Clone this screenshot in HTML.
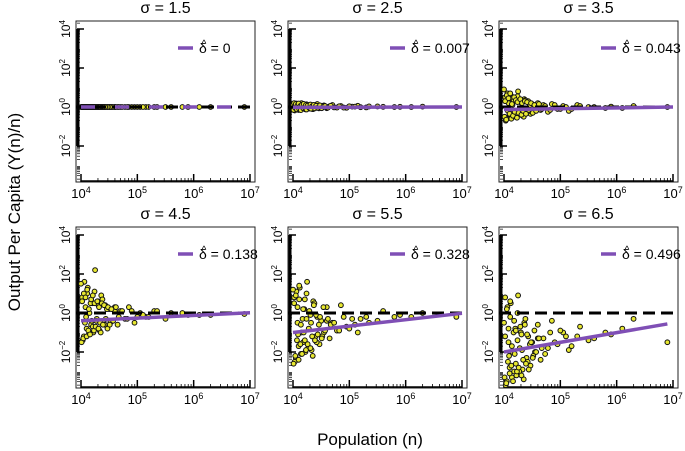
<!DOCTYPE html>
<html><head><meta charset="utf-8"><style>
body{margin:0;background:#fff;}
svg{display:block;font-family:"Liberation Sans",Arial,sans-serif;}
</style></head><body>
<svg id="chart" width="685" height="451" viewBox="0 0 685 451" xmlns="http://www.w3.org/2000/svg">
<text x="0" y="0" transform="translate(20,212) rotate(-90)" text-anchor="middle" font-size="17">Output Per Capita (Y(n)/n)</text>
<text x="370" y="445" text-anchor="middle" font-size="17">Population (n)</text>
</svg>
<script>
const sigmas = ["1.5","2.5","3.5","4.5","5.5","6.5"];
const deltas = [0, 0.007, 0.043, 0.138, 0.328, 0.496];
const deltaLabels = ["0","0.007","0.043","0.138","0.328","0.496"];
const fitStart = [0, -0.02, -0.13, -0.4, -1.0, -2.0];
const fitEndX = [7, 7, 7, 7, 7, 6.9];
const xTicks = [4,5,6,7];
const yTicks = [4,2,0,-2];
const logPop = [4.02,4.05,4.08,4.1,4.12,4.15,4.18,4.2,4.22,4.25,4.28,4.3,4.33,4.36,4.4,4.43,4.47,4.5,4.55,4.6,4.65,4.7,4.78,4.85,4.95,5.05,5.15,5.3,5.5,5.8,6.3,6.9,4.03,4.06,4.09,4.11,4.14,4.17,4.21,4.24,4.27,4.31,4.35,4.38,4.42,4.46,4.52,4.6,5.0,5.9,
 4.0,4.01,4.02,4.04,4.05,4.07,4.08,4.1,4.11,4.13,4.14,4.16,4.18,4.19,4.21,4.23,4.24,4.26,4.29,4.31,4.32,4.34,4.37,4.39,4.41,4.44,4.48,4.51,4.54,4.57,4.62,4.67,4.73,4.82,4.9,5.1,5.2,5.35,5.6,6.1];
const y1 = logPop.map(()=>0);
const y2 = [0.15,-0.1,0.05,-0.15,0.1,0.2,-0.05,0.08,-0.12,0.12,0.02,-0.08,0.1,-0.1,0.05,0.15,-0.05,0.0,0.08,-0.06,0.04,0.1,-0.03,0.05,-0.04,0.02,0.06,-0.02,0.03,0.0,0.02,0.0,-0.18,0.18,-0.02,0.12,-0.14,0.06,-0.09,0.14,-0.06,0.09,-0.11,0.03,0.07,-0.07,0.05,-0.03,0.04,0.01,
 0.1,-0.15,0.2,-0.05,0.15,-0.12,0.08,0.18,-0.1,0.05,-0.16,0.12,-0.06,0.16,-0.02,0.1,-0.13,0.07,-0.05,0.13,-0.09,0.04,0.11,-0.07,0.06,-0.04,0.08,-0.06,0.03,0.05,-0.03,0.06,-0.02,0.04,-0.03,0.02,-0.01,0.03,0.01,0.0];
const y3 = [0.5,-0.6,0.2,-0.4,0.6,0.1,-0.3,0.35,-0.5,0.8,-0.2,0.25,-0.45,0.4,-0.1,0.3,-0.35,0.15,-0.2,0.2,-0.15,0.1,-0.25,0.15,-0.1,0.05,-0.2,0.1,0.0,-0.05,0.05,0.0,-0.7,0.7,-0.15,0.45,-0.55,0.3,-0.4,0.55,-0.3,0.2,-0.5,0.35,-0.25,0.1,-0.15,0.05,-0.1,0.02,
 0.9,-0.5,0.3,-0.65,0.6,-0.2,0.45,-0.35,0.7,-0.6,0.15,-0.45,0.5,-0.25,0.35,-0.55,0.25,-0.3,0.4,-0.4,0.2,-0.2,0.3,-0.35,0.25,-0.15,0.2,-0.3,0.1,-0.2,0.15,-0.1,0.05,-0.15,0.1,0.0,-0.1,0.05,0.0,-0.05];
const y4 = [0.8,-1.2,0.3,-0.8,1.3,0.0,-0.6,0.5,-1.0,2.2,-0.3,0.6,-0.9,0.9,-0.5,0.4,-0.8,0.2,-0.4,0.3,-0.6,0.1,-0.3,0.3,-0.5,0.0,-0.2,0.1,-0.3,0.0,-0.1,-0.05,-1.4,1.6,-0.2,1.0,-1.1,0.5,-0.7,1.1,-0.4,0.4,-1.0,0.7,-0.6,0.2,-0.5,0.1,-0.2,-0.1,
 1.5,-1.5,0.6,-1.3,1.0,-0.5,0.8,-1.2,1.2,-0.9,0.2,-1.1,0.7,-0.4,0.9,-0.9,0.5,-0.7,0.6,-0.8,0.3,-0.5,0.5,-0.6,0.4,-0.3,0.3,-0.6,0.2,-0.4,0.3,-0.2,0.1,-0.3,0.1,-0.1,-0.2,0.1,0.0,-0.1];
const y5 = [0.8,-2.3,-0.5,-1.7,1.3,-1.0,-1.5,0.2,-2.0,1.6,-0.8,0.0,-1.9,0.6,-1.2,-0.2,-1.6,-0.4,-1.0,0.3,-1.3,-0.5,-0.9,0.4,-0.7,-0.3,-1.0,-0.2,-0.4,-0.2,0.0,-0.2,-2.5,1.1,-1.1,0.7,-2.1,-0.3,-1.4,1.0,-1.8,-0.1,-2.2,0.5,-1.5,-0.6,-1.2,-0.4,-0.8,-0.1,
 1.2,-2.6,0.5,-2.2,0.9,-1.4,0.3,-2.4,1.4,-1.6,-0.6,-2.1,0.2,-1.0,0.7,-1.9,-0.3,-1.6,0.1,-1.8,-0.5,-1.2,0.4,-1.4,-0.1,-1.1,-0.2,-1.3,0.3,-0.9,-0.3,-0.6,-0.5,-0.9,-0.2,-0.6,-0.3,-0.5,0.1,-0.2];
const y6 = [0.8,-3.5,-1.5,-2.8,0.5,-2.0,-3.0,-0.8,-3.2,0.9,-1.8,-1.0,-2.9,-0.5,-2.3,-1.2,-2.7,-1.5,-2.0,-0.6,-2.4,-1.3,-1.8,-0.4,-1.6,-1.0,-1.9,-1.2,-1.4,-1.0,-0.3,-1.5,-3.7,0.3,-2.2,-0.2,-3.3,-1.0,-2.6,0.0,-3.0,-1.1,-3.4,-0.3,-2.5,-1.6,-2.2,-1.3,-0.9,-1.1,
 -0.5,-3.3,-1.2,-3.6,0.2,-2.5,-0.8,-3.1,0.6,-2.7,-1.7,-3.5,-0.4,-2.1,-0.9,-3.0,-1.4,-2.8,-0.7,-3.2,-1.9,-2.4,-0.6,-2.6,-1.1,-2.9,-1.5,-2.3,-0.9,-2.0,-1.3,-1.8,-2.1,-1.0,-1.5,-1.2,-1.7,-0.7,-1.3,-0.8];
const ySeries = [y1,y2,y3,y4,y5,y6];

const svg = document.getElementById('chart');
const NS = 'http://www.w3.org/2000/svg';
function mk(tag, attrs, parent){const e=document.createElementNS(NS,tag);for(const k in attrs)e.setAttribute(k,attrs[k]);(parent||svg).appendChild(e);return e;}
const colLeft=[76,288,499], rowTop=[21,227], W=179, H=161;

for(let p=0;p<6;p++){
  const L=colLeft[p%3], T=rowTop[Math.floor(p/3)];
  const xs=v=>L+5+(v-4)*(169/3);
  const ys=v=>T+86-v*19.5;
  const g=mk('g',{});
  
  
  const t=mk('text',{x:L+W/2,y:T-8,'text-anchor':'middle','font-size':'16'},g);
  
  
  t.textContent='σ = '+sigmas[p];
  const fr=mk('rect',{x:L,y:T,width:W,height:H,fill:'none',stroke:'#222','stroke-width':1},g);
  
  
  const ya=mk('line',{x1:L+2,x2:L+2,y1:ys(4),y2:ys(-2),stroke:'#000','stroke-width':3},g);
  
  
  for(let d=-4;d<5;d++){for(let m=2;m<10;m++){const v=d+Math.log10(m);const yy=ys(v);if(yy<T+1||yy>T+H-1)continue;mk('line',{x1:L+1,x2:L+4,y1:yy,y2:yy,stroke:'#000','stroke-width':0.7},g);}}
  yTicks.forEach(v=>{
    mk('line',{x1:L+1,x2:L+8,y1:ys(v),y2:ys(v),stroke:'#000','stroke-width':1.5},g);
    const tl=mk('text',{transform:`translate(${L-6},${ys(v)}) rotate(-90)`,'text-anchor':'middle','font-size':'12'},g);
    
    
    tl.innerHTML='10<tspan dy="-5" font-size="8">'+(v<0?'−'+(-v):v)+'</tspan>';
  });
  const xa=mk('line',{x1:xs(4),x2:xs(7),y1:T+H-1,y2:T+H-1,stroke:'#000','stroke-width':1.5},g);
  
  
  for(let d=4;d<7;d++){for(let m=2;m<10;m++){const xx=xs(d+Math.log10(m));mk('line',{x1:xx,x2:xx,y1:T+H,y2:T+H-4,stroke:'#000','stroke-width':0.8},g);}}
  xTicks.forEach(v=>{
    mk('line',{x1:xs(v),x2:xs(v),y1:T+H,y2:T+H-8,stroke:'#000','stroke-width':1.5},g);
    const tl=mk('text',{x:xs(v),y:T+H+16,'text-anchor':'middle','font-size':'13'},g);
    
    
    tl.innerHTML='10<tspan dy="-5" font-size="9">'+v+'</tspan>';
  });
  const ys2=ySeries[p];
  logPop.forEach((x,i)=>{
    const c=mk('circle',{cx:xs(x),cy:ys(ys2[i]),r:2.4,fill:'#e8e830',stroke:'#111','stroke-width':1},g);
    
    
  });
  const rl=mk('line',{x1:L,x2:L+W,y1:ys(0),y2:ys(0),stroke:'#000','stroke-width':3,'stroke-dasharray':'12,6'},g);
  
  
  const fl=mk('line',{x1:xs(4),y1:ys(fitStart[p]),x2:xs(fitEndX[p]),y2:ys(fitStart[p]+deltas[p]*(fitEndX[p]-4)),stroke:'#7f4fb5','stroke-width':3.5},g);
  if(p===0){fl.setAttribute('stroke-dasharray','14,20');}
  
  
  const lg=mk('g',{},g);
  
  
  mk('line',{x1:L+102,x2:L+117,y1:T+27,y2:T+27,stroke:'#7f4fb5','stroke-width':3.5},lg);
  mk('text',{x:L+128,y:T+26,'font-size':'10','text-anchor':'middle'},lg).textContent='^';
  const lt=mk('text',{x:L+123,y:T+32,'font-size':'14'},lg);
  lt.textContent='δ = '+deltaLabels[p];
}
</script>
</body></html>
